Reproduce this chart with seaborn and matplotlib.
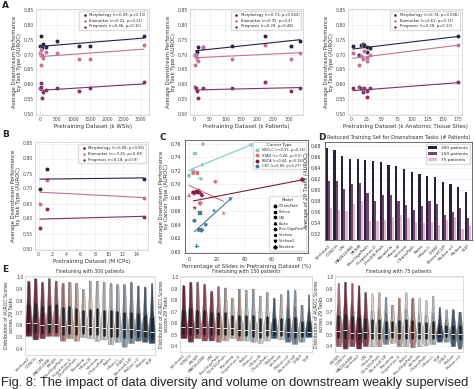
import numpy as np
import pandas as pd
import seaborn as sns
import matplotlib.pyplot as plt
from matplotlib.lines import Line2D

sns.set_theme(style="whitegrid")
plt.rcParams['font.family'] = ['DejaVu Sans']
plt.rcParams.update({
    'axes.linewidth': 0.5, 'axes.edgecolor': '#cccccc',
    'grid.linewidth': 0.4, 'grid.color': '#e8e8e8',
    'xtick.major.pad': 1.2, 'ytick.major.pad': 1.2,
    'axes.labelpad': 1.5, 'axes.titlepad': 2,
})

# ---------------- data ----------------
TASKS = ['Morphology', 'Biomarker', 'Prognosis']
TASK_COLORS = ['#2c2240', '#c1709a', '#7c3366']

# A1: k WSIs
wsi_x = [10, 25, 40, 60, 100, 170, 500, 1150, 1500, 3100]
wsi_morph = [0.728, 0.700, 0.763, 0.722, 0.735, 0.725, 0.745, 0.730, 0.730, 0.763]
wsi_bio = [0.705, 0.664, 0.715, 0.698, 0.687, 0.710, 0.705, 0.685, 0.685, 0.733]
wsi_prog = [0.585, 0.590, 0.602, 0.553, 0.573, 0.579, 0.585, 0.575, 0.585, 0.607]
wsi_stats = ['r=0.49, p=0.13', 'r=0.41, p=0.21', 'r=0.46, p=0.15']

# A2: k patients
pat_x = [5, 8, 10, 12, 30, 120, 225, 308, 335]
pat_morph = [0.700, 0.703, 0.708, 0.725, 0.725, 0.730, 0.763, 0.730, 0.748]
pat_bio = [0.664, 0.698, 0.685, 0.680, 0.722, 0.685, 0.733, 0.685, 0.705]
pat_prog = [0.590, 0.588, 0.578, 0.553, 0.585, 0.585, 0.607, 0.575, 0.585]
pat_stats = ['r=0.73, p=0.042', 'r=0.35, p=0.4', 'r=0.29, p=0.48']

# A3: k anatomic tissue sites
site_x = [2, 12, 15, 18, 20, 25, 25, 30, 175]
site_morph = [0.730, 0.698, 0.733, 0.735, 0.733, 0.725, 0.708, 0.722, 0.763]
site_bio = [0.705, 0.665, 0.695, 0.685, 0.712, 0.680, 0.690, 0.700, 0.733]
site_prog = [0.585, 0.590, 0.588, 0.572, 0.585, 0.555, 0.578, 0.585, 0.607]
site_stats = ['r=0.74, p=0.036', 'r=0.61, p=0.11', 'r=0.58, p=0.13']

# B: M ICPs
icp_x = [0.2, 1.2, 15]
icp_morph = [0.700, 0.765, 0.733]
icp_bio = [0.650, 0.727, 0.667]
icp_prog = [0.567, 0.632, 0.605]
icp_stats = ['r=0.08, p=0.95', 'r=-0.26, p=0.83', 'r=0.18, p=0.9']

# C: cancer type vs share of slides
C_MODELS = ['CTransPath', 'Phikon', 'UNI', 'Kaiko', 'Prov-GigaPath', 'Virchow', 'Virchow2', 'Panakeia']
C_MARKERS = ['o', 's', 'h', '^', 'P', '*', 'v', 'D']
CANCERS = ['NSCLC', 'STAD', 'BRCA', 'CRC']
CANCER_COLORS = ['#8ec3c3', '#d4707c', '#7b1d3b', '#3f7f95']
CANCER_STATS = ['r=0.55, p=0.16', 'r=-0.28, p=0.5', 'r=0.44, p=0.28', 'r=0.85, p=0.27']
nsclc_pct = [0, 4, 10, 9.5, 8, 9, 45, 3]
nsclc_auc = [0.713, 0.746, 0.760, 0.730, 0.709, 0.708, 0.758, 0.720]
stad_pct = [3, 6, 19, 0, 3, 25, 4, 8]
stad_auc = [0.717, 0.717, 0.704, 0.684, 0.687, 0.657, 0.685, 0.672]
brca_pct = [3, 5.5, 6.8, 8, 9.3, 4, 7, 82]
brca_auc = [0.688, 0.689, 0.691, 0.688, 0.684, 0.665, 0.632, 0.707]
crc_pct = [3.8, 8, 12, 7, 5.5, 18, 30, 9]
crc_auc = [0.646, 0.657, 0.640, 0.633, 0.608, 0.661, 0.678, 0.632]

# D: reduced training sets
MODELS = ['Virchow2', 'CONCH', 'UNI', 'MADELEINE', 'PRISM', 'ProvGigaPath', 'H-optimus-0',
          'DinoSSLPath', 'Panakeia', 'Hibou-B', 'Virchow', 'CTransPath', 'Kaiko', 'Hibou-L',
          'CHIEF', 'BiomedCLIP', 'Phikon-v2', 'Phikon', 'PLIP']
d_300 = [0.676, 0.673, 0.662, 0.657, 0.656, 0.654, 0.652, 0.651, 0.645, 0.643,
         0.638, 0.632, 0.629, 0.625, 0.624, 0.614, 0.611, 0.605, 0.597]
d_150 = [0.617, 0.616, 0.603, 0.612, 0.613, 0.595, 0.580, 0.592, 0.592, 0.580,
         0.573, 0.565, 0.571, 0.580, 0.575, 0.555, 0.560, 0.567, 0.550]
d_75 = [0.568, 0.565, 0.563, 0.575, 0.580, 0.545, 0.545, 0.547, 0.552, 0.555,
        0.550, 0.543, 0.541, 0.542, 0.537, 0.547, 0.552, 0.530, 0.535]
D_COLORS = ['#2a1b3d', '#763a7a', '#e2b7d5']

# E: AUROC distributions over 29 tasks (read as sample points per model)
e_300 = {
    'Virchow2': [0.51, 0.53, 0.55, 0.58, 0.655, 0.74, 0.84, 0.97],
    'CONCH': [0.48, 0.52, 0.55, 0.58, 0.66, 0.75, 0.86, 0.99],
    'UNI': [0.49, 0.52, 0.54, 0.57, 0.635, 0.72, 0.83, 0.96],
    'MADELEINE': [0.51, 0.53, 0.55, 0.58, 0.635, 0.73, 0.85, 0.99],
    'PRISM': [0.51, 0.53, 0.55, 0.58, 0.645, 0.74, 0.84, 0.97],
    'ProvGigaPath': [0.47, 0.50, 0.53, 0.56, 0.63, 0.72, 0.82, 0.95],
    'H-optimus-0': [0.49, 0.51, 0.54, 0.57, 0.63, 0.72, 0.83, 0.96],
    'DinoSSLPath': [0.47, 0.50, 0.53, 0.56, 0.625, 0.71, 0.82, 0.95],
    'Panakeia': [0.50, 0.52, 0.54, 0.57, 0.62, 0.70, 0.78, 0.90],
    'Hibou-B': [0.49, 0.51, 0.53, 0.56, 0.61, 0.70, 0.82, 0.97],
    'Virchow': [0.47, 0.50, 0.53, 0.56, 0.615, 0.71, 0.82, 0.97],
    'CTransPath': [0.48, 0.50, 0.52, 0.55, 0.60, 0.69, 0.81, 0.96],
    'Kaiko': [0.44, 0.48, 0.52, 0.55, 0.60, 0.69, 0.80, 0.95],
    'Hibou-L': [0.46, 0.49, 0.52, 0.55, 0.60, 0.68, 0.80, 0.94],
    'CHIEF': [0.42, 0.47, 0.51, 0.54, 0.59, 0.67, 0.79, 0.94],
    'BiomedCLIP': [0.45, 0.48, 0.51, 0.54, 0.595, 0.67, 0.80, 0.96],
    'Phikon-v2': [0.47, 0.49, 0.51, 0.54, 0.58, 0.66, 0.78, 0.93],
    'Phikon': [0.46, 0.49, 0.51, 0.53, 0.57, 0.65, 0.77, 0.92],
    'PLIP': [0.45, 0.48, 0.50, 0.52, 0.56, 0.63, 0.76, 0.95],
}
e_150 = {
    'Virchow2': [0.47, 0.50, 0.52, 0.54, 0.60, 0.68, 0.79, 0.93],
    'CONCH': [0.44, 0.48, 0.51, 0.54, 0.60, 0.69, 0.81, 0.96],
    'PRISM': [0.47, 0.50, 0.52, 0.54, 0.585, 0.68, 0.80, 0.96],
    'MADELEINE': [0.45, 0.49, 0.51, 0.54, 0.59, 0.68, 0.79, 0.94],
    'UNI': [0.45, 0.49, 0.51, 0.54, 0.595, 0.67, 0.76, 0.88],
    'ProvGigaPath': [0.44, 0.48, 0.51, 0.53, 0.585, 0.66, 0.77, 0.92],
    'DinoSSLPath': [0.45, 0.48, 0.51, 0.53, 0.58, 0.66, 0.77, 0.91],
    'Panakeia': [0.47, 0.49, 0.51, 0.53, 0.58, 0.64, 0.72, 0.82],
    'H-optimus-0': [0.45, 0.48, 0.50, 0.52, 0.56, 0.63, 0.75, 0.90],
    'Kaiko': [0.45, 0.48, 0.50, 0.52, 0.555, 0.63, 0.75, 0.89],
    'Hibou-L': [0.44, 0.47, 0.50, 0.52, 0.56, 0.63, 0.75, 0.90],
    'Hibou-B': [0.43, 0.46, 0.49, 0.51, 0.545, 0.61, 0.72, 0.84],
    'CTransPath': [0.45, 0.48, 0.50, 0.52, 0.565, 0.63, 0.74, 0.87],
    'Phikon': [0.47, 0.49, 0.50, 0.52, 0.55, 0.61, 0.70, 0.82],
    'Virchow': [0.46, 0.48, 0.50, 0.52, 0.55, 0.61, 0.72, 0.85],
    'Phikon-v2': [0.44, 0.47, 0.49, 0.51, 0.545, 0.61, 0.73, 0.89],
    'BiomedCLIP': [0.42, 0.46, 0.49, 0.51, 0.54, 0.61, 0.74, 0.89],
    'CHIEF': [0.44, 0.47, 0.49, 0.51, 0.535, 0.59, 0.66, 0.76],
    'PLIP': [0.48, 0.50, 0.51, 0.52, 0.53, 0.57, 0.68, 0.85],
}
e_75 = {
    'PRISM': [0.40, 0.45, 0.49, 0.51, 0.55, 0.63, 0.76, 0.95],
    'CONCH': [0.38, 0.44, 0.48, 0.51, 0.57, 0.64, 0.78, 0.96],
    'MADELEINE': [0.40, 0.45, 0.48, 0.50, 0.535, 0.62, 0.76, 0.95],
    'Virchow2': [0.38, 0.44, 0.47, 0.50, 0.53, 0.61, 0.75, 0.93],
    'UNI': [0.40, 0.45, 0.48, 0.50, 0.55, 0.61, 0.72, 0.87],
    'Hibou-B': [0.40, 0.45, 0.48, 0.50, 0.53, 0.60, 0.71, 0.86],
    'DinoSSLPath': [0.40, 0.45, 0.48, 0.50, 0.53, 0.60, 0.72, 0.87],
    'BiomedCLIP': [0.42, 0.46, 0.48, 0.50, 0.52, 0.58, 0.69, 0.83],
    'Panakeia': [0.43, 0.46, 0.49, 0.51, 0.54, 0.59, 0.67, 0.76],
    'H-optimus-0': [0.40, 0.45, 0.48, 0.50, 0.53, 0.59, 0.69, 0.82],
    'Kaiko': [0.40, 0.45, 0.48, 0.50, 0.53, 0.60, 0.72, 0.87],
    'ProvGigaPath': [0.39, 0.45, 0.48, 0.51, 0.54, 0.60, 0.69, 0.82],
    'Virchow': [0.40, 0.45, 0.48, 0.50, 0.52, 0.58, 0.68, 0.82],
    'CTransPath': [0.41, 0.45, 0.48, 0.50, 0.53, 0.58, 0.67, 0.80],
    'Hibou-L': [0.42, 0.46, 0.48, 0.50, 0.52, 0.58, 0.69, 0.84],
    'PLIP': [0.44, 0.47, 0.49, 0.50, 0.52, 0.56, 0.63, 0.74],
    'CHIEF': [0.44, 0.47, 0.49, 0.50, 0.525, 0.56, 0.63, 0.72],
    'Phikon': [0.40, 0.45, 0.48, 0.50, 0.52, 0.56, 0.63, 0.72],
    'Phikon-v2': [0.38, 0.44, 0.47, 0.49, 0.52, 0.56, 0.62, 0.70],
}
E_PALETTE = sns.blend_palette(['#7d1a38', '#a9455a', '#c89a8a', '#ddd3cc', '#c4cad1',
                               '#7d95aa', '#2d5072'], len(MODELS))
MODEL_COLORS = dict(zip(MODELS, E_PALETTE))

# ---------------- figure ----------------
W, H = 474, 389
fig = plt.figure(figsize=(W / 100, H / 100), dpi=100)


def rect(l, t, r, b):
    return [l / W, 1 - b / H, (r - l) / W, (b - t) / H]


def task_panel(box, x, morph, bio, prog, stats, xlabel, xlim, xticks):
    ax = fig.add_axes(rect(*box))
    for task, vals, st, c in zip(TASKS, [morph, bio, prog], stats, TASK_COLORS):
        sns.regplot(x=x, y=vals, ax=ax, scatter=False, ci=None, color=c,
                    line_kws=dict(lw=0.8))
        sns.scatterplot(x=x, y=vals, ax=ax, color=c, s=9, linewidth=0.2,
                        edgecolor='white', label=f'{task} ({st})')
    ax.set_xlim(*xlim)
    ax.set_xticks(xticks)
    ax.set_ylim(0.495, 0.855)
    ax.set_yticks(np.arange(0.50, 0.851, 0.05))
    ax.yaxis.set_major_formatter(plt.FormatStrFormatter('%.2f'))
    ax.tick_params(labelsize=3.3, length=0, colors='#444444')
    ax.set_xlabel(xlabel, fontsize=4.0, color='#333333')
    ax.set_ylabel('Average Downstream Performance\nby Task Type (AUROC)', fontsize=3.8,
                  color='#333333', linespacing=1.0)
    ax.legend(fontsize=2.7, loc='upper right', markerscale=0.7, handletextpad=0.2,
              borderpad=0.5, labelspacing=0.5, framealpha=1, edgecolor='#dddddd')
    return ax


task_panel((36, 9, 149, 115), wsi_x, wsi_morph, wsi_bio, wsi_prog, wsi_stats,
           'Pretraining Dataset (k WSIs)', (-120, 3250), range(0, 3001, 500))
task_panel((190, 9, 303, 115), pat_x, pat_morph, pat_bio, pat_prog, pat_stats,
           'Pretraining Dataset (k Patients)', (-12, 345), range(0, 301, 50))
task_panel((348, 9, 462, 115), site_x, site_morph, site_bio, site_prog, site_stats,
           'Pretraining Dataset (k Anatomic Tissue Sites)', (-6, 182), range(0, 176, 25))
task_panel((35, 142, 148, 250), icp_x, icp_morph, icp_bio, icp_prog, icp_stats,
           'Pretraining Dataset (M ICPs)', (-0.5, 15.6), range(0, 15, 2))

# C
axc = fig.add_axes(rect(185, 140, 308, 253))
for name, pct, auc, c in zip(CANCERS, [nsclc_pct, stad_pct, brca_pct, crc_pct],
                             [nsclc_auc, stad_auc, brca_auc, crc_auc], CANCER_COLORS):
    sns.regplot(x=pct, y=auc, ax=axc, scatter=False, ci=None, color=c, line_kws=dict(lw=0.8))
    sns.scatterplot(x=pct, y=auc, ax=axc, style=C_MODELS, style_order=C_MODELS,
                    markers=dict(zip(C_MODELS, C_MARKERS)), color=c, s=7,
                    linewidth=0.2, edgecolor=c, legend=False)
axc.set_xlim(-3, 86)
axc.set_ylim(0.598, 0.766)
axc.set_xticks([0, 20, 40, 60, 80])
axc.set_yticks(np.arange(0.60, 0.761, 0.02))
axc.yaxis.set_major_formatter(plt.FormatStrFormatter('%.2f'))
for s in axc.spines.values():
    s.set_color('#333333')
axc.tick_params(labelsize=3.4, length=1.5, width=0.4, colors='#333333')
axc.set_xlabel('Percentage of Slides in Pretraining Dataset (%)', fontsize=4.0, color='#333333')
axc.set_ylabel('Average Downstream Performance\nby Cancer Type (AUROC)', fontsize=3.8,
               color='#333333', linespacing=1.0)
h1 = [Line2D([], [], ls='', marker='o', color=c, markersize=1.8) for c in CANCER_COLORS]
leg1 = axc.legend(h1, [f'{n} ({s})' for n, s in zip(CANCERS, CANCER_STATS)], title='Cancer Type',
                  fontsize=2.5, title_fontsize=2.9, loc='upper right', handletextpad=0.2,
                  labelspacing=0.35, borderpad=0.4, framealpha=1, edgecolor='#dddddd')
axc.add_artist(leg1)
h2 = [Line2D([], [], ls='', marker=m, color='black', markersize=1.8) for m in C_MARKERS]
axc.legend(h2, C_MODELS, title='Model', fontsize=2.5, title_fontsize=2.9, loc='lower right',
           handletextpad=0.3, labelspacing=0.55, borderpad=0.6, framealpha=1,
           edgecolor='#dddddd', bbox_to_anchor=(1.0, 0.0))

# D
axd = fig.add_axes(rect(325, 142, 472, 240))
d_df = pd.DataFrame({
    'model': MODELS * 3,
    'auroc': d_300 + d_150 + d_75,
    'n': ['300 patients'] * len(MODELS) + ['150 patients'] * len(MODELS) + ['75 patients'] * len(MODELS),
})
sns.barplot(data=d_df, x='model', y='auroc', hue='n', palette=D_COLORS, ax=axd,
            width=0.85, linewidth=0)
axd.set_ylim(0.51, 0.687)
axd.set_yticks(np.arange(0.52, 0.681, 0.02))
axd.yaxis.set_major_formatter(plt.FormatStrFormatter('%.2f'))
for s in axd.spines.values():
    s.set_color('#333333')
axd.grid(axis='x', visible=False)
axd.tick_params(labelsize=3.3, length=1.5, width=0.4, colors='#333333')
axd.set_xticks(range(len(MODELS)))
axd.set_xticklabels(MODELS, rotation=45, ha='right', rotation_mode='anchor', fontsize=3.2)
axd.set_xlabel('')
axd.set_ylabel('Average of 29 Tasks (AUROC)', fontsize=3.8, color='#333333', style='italic')
axd.set_title('Reduced Training Set for Downstream Tasks (# Patients)', fontsize=3.7, color='#333333')
axd.legend(fontsize=3.1, loc='upper right', handlelength=2.2, borderpad=0.5,
           labelspacing=0.4, framealpha=1, edgecolor='#dddddd', title=None)


# E
def violin_panel(box, data, title):
    ax = fig.add_axes(rect(*box))
    names = list(data.keys())
    df = pd.DataFrame({'model': [m for m in names for _ in data[m]],
                       'auroc': [v for m in names for v in data[m]]})
    sns.violinplot(data=df, x='model', y='auroc', hue='model', order=names,
                   palette=MODEL_COLORS, legend=False, ax=ax, cut=0, bw_adjust=1.0,
                   density_norm='width', width=0.95, linewidth=0.25, linecolor='#666666',
                   inner='box', inner_kws=dict(box_width=1.8, whis_width=0.35,
                                               color='#222222', marker='_', markersize=2.5,
                                               markeredgewidth=0.6))
    ax.set_ylim(0.35, 1.01)
    ax.set_yticks(np.arange(0.4, 1.01, 0.1))
    ax.yaxis.set_major_formatter(plt.FormatStrFormatter('%.1f'))
    ax.tick_params(labelsize=3.3, length=0, colors='#444444')
    ax.set_xticks(range(len(names)))
    ax.set_xticklabels(names, rotation=45, ha='right', rotation_mode='anchor', fontsize=3.0)
    ax.set_xlabel('')
    ax.set_ylabel('Distribution of AUROC Scores\nacross 29 Tasks', fontsize=3.3,
                  color='#333333', linespacing=1.0)
    ax.set_title(title, fontsize=3.4, color='#333333')
    return ax


violin_panel((25, 276, 155, 355), e_300, 'Finetuning with 300 patients')
violin_panel((180, 276, 312, 352), e_150, 'Finetuning with 150 patients')
violin_panel((335, 276, 463, 352), e_75, 'Finetuning with 75 patients')

# panel letters and caption
for letter, px, py in [('A', 2, 8), ('B', 2, 137), ('C', 160, 140), ('D', 318, 140), ('E', 2, 272)]:
    fig.text(px / W, 1 - py / H, letter, fontsize=6.5, fontweight='bold')
fig.text(0.002, 3 / H, 'Fig. 8: The impact of data diversity and volume on downstream weakly supervised',
         fontsize=9.3, family='Liberation Sans', va='baseline')

fig.savefig('out.png', dpi=100)
